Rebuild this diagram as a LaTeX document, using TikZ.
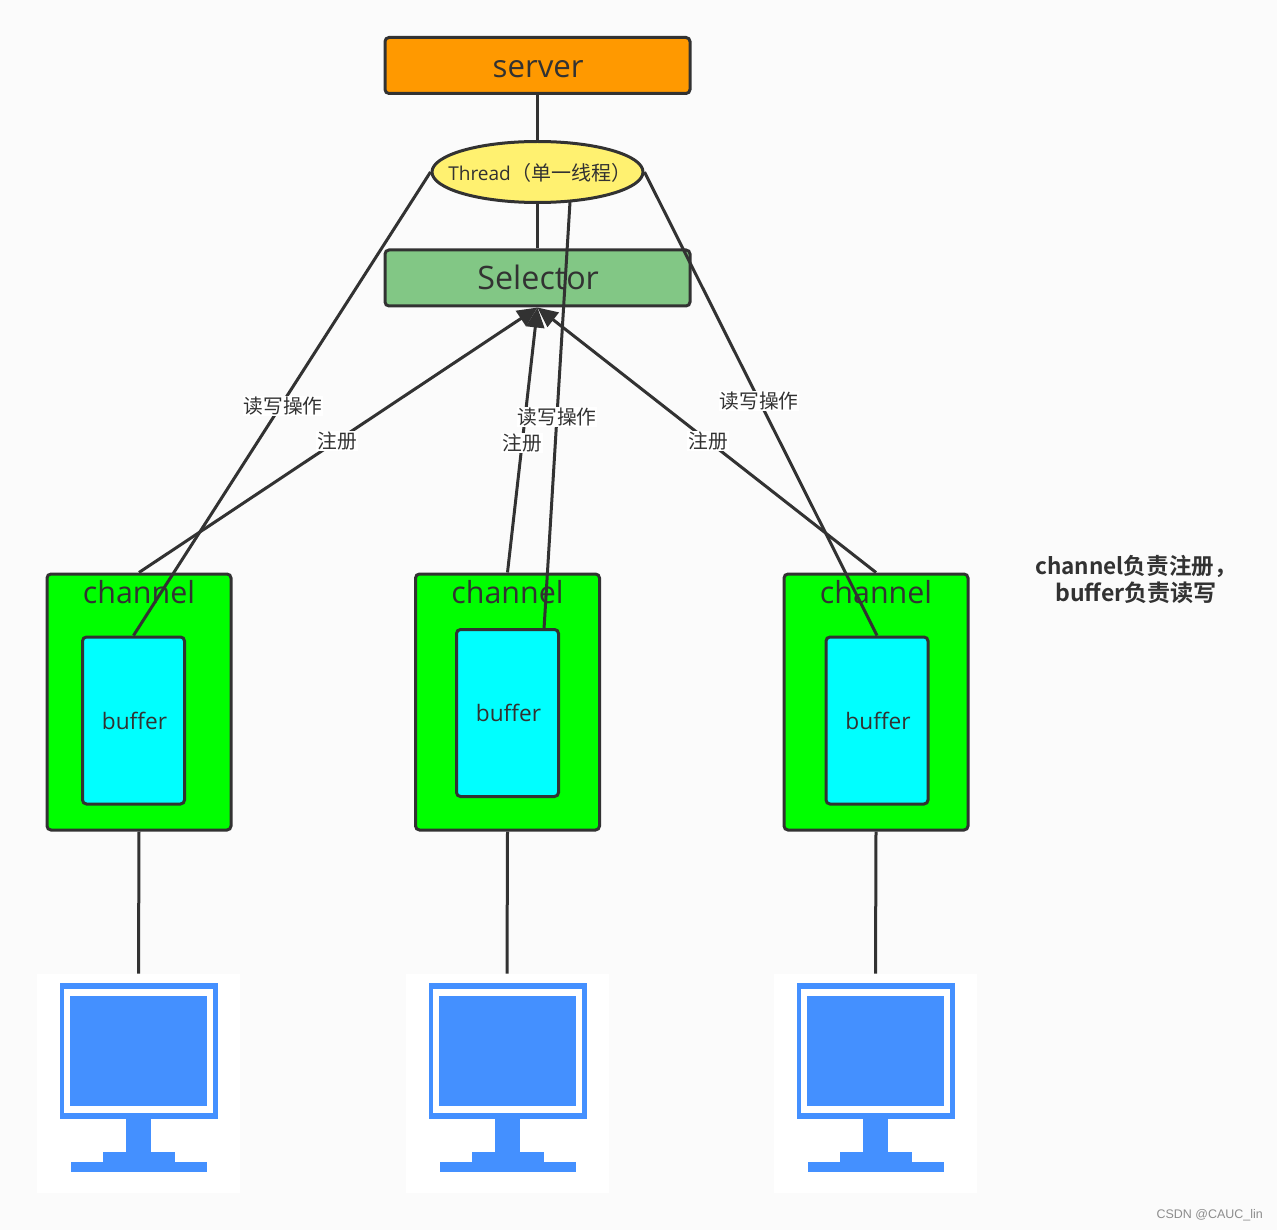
\documentclass[tikz,border=0pt]{standalone}
\usepackage{fontspec}
\setmainfont{Open Sans}
\newfontfamily\cjk{Noto Sans CJK SC}
\newfontfamily\cjkb{Noto Sans CJK SC Bold}
\newfontfamily\wm{Liberation Sans}
\usetikzlibrary{shapes.geometric,arrows.meta}
\def\px{0.75pt}
\definecolor{ink}{HTML}{323232}
\definecolor{iconblue}{HTML}{4490FF}
\definecolor{pagebg}{HTML}{FBFBFB}
\definecolor{serverfill}{HTML}{FF9900}
\definecolor{threadfill}{HTML}{FFF170}
\definecolor{selfill}{HTML}{82C785}
\definecolor{chanfill}{HTML}{00FF00}
\definecolor{buffill}{HTML}{00FFFF}
\tikzset{
  box/.style={draw=ink,line width=3*\px,rounded corners=4*\px,inner sep=0pt,text=ink},
  bigtext/.style={font=\fontsize{22.8}{26}\selectfont},
  link/.style={draw=ink,line width=3*\px},
  regarrow/.style={link,-{Triangle[length=20*\px,width=18*\px]}},
  lab/.style={fill=white,inner sep=1*\px,text=ink,font=\cjk\fontsize{14.8}{17}\selectfont},
  chanbox/.style={box,fill=chanfill,minimum width=184*\px,minimum height=256*\px},
  bufbox/.style={box,fill=buffill,minimum width=102*\px,minimum height=167*\px,font=\fontsize{17}{20}\selectfont},
  chantext/.style={text=ink,inner sep=0pt,bigtext},
  note/.style={text=ink,inner sep=0pt,font=\cjkb\fontsize{16.9}{20}\selectfont}
}
\newcommand{\monitor}[2]{%
  \begin{scope}[shift={(#1,0)}]
    \node[fill=white,minimum width=203*\px,minimum height=219*\px,inner sep=0pt] (#2) at (138.5,1083.5) {};
    \fill[iconblue] (60,983) rectangle (218,1119);
    \fill[white] (64,989) rectangle (213,1113);
    \fill[iconblue] (70,996) rectangle (207,1106);
    \fill[iconblue] (126,1119) rectangle (151,1152);
    \fill[iconblue] (103,1152) rectangle (175,1162);
    \fill[iconblue] (71,1162) rectangle (207,1172);
  \end{scope}}
\begin{document}
\begin{tikzpicture}[x=0.75pt,y=-0.75pt]
\fill[pagebg] (0,0) rectangle (1277,1230);
\useasboundingbox (0,0) rectangle (1277,1230);

% computers
\monitor{0}{pc1}
\monitor{368.5}{pc2}
\monitor{737}{pc3}

% channels
\node[chanbox] (ch1) at (139,702) {};
\node[chanbox] (ch2) at (507.5,702) {};
\node[chanbox] (ch3) at (876,702) {};
\node[chantext] (ch1t) at (139,592) {channel};
\node[chantext] (ch2t) at (507.5,592) {channel};
\node[chantext] (ch3t) at (876,592) {channel};

% buffers
\node[bufbox] (b1) at (133.5,720.5) {\hspace*{1.5pt}buffer};
\node[bufbox] (b2) at (507.5,713) {\hspace*{1.5pt}buffer};
\node[bufbox] (b3) at (877,720.5) {\hspace*{1.5pt}buffer};

% top row
\node[box,fill=serverfill,minimum width=305*\px,minimum height=56*\px,font=\fontsize{23.4}{26}\selectfont] (server) at (537.5,65.5) {\hspace*{1pt}\raisebox{-9.2pt}[0pt][0pt]{server}};
\node[draw=ink,line width=3*\px,fill=threadfill,ellipse,minimum width=211*\px,minimum height=61*\px,inner sep=0pt] (thread) at (537.5,172) {};
\node[text=ink,inner sep=0pt,anchor=west] (threadt) at (448,173) {\fontsize{14.3}{17}\selectfont Thread\cjk\fontsize{15}{17}\selectfont\hspace{0.5pt}（单一线程）};
\node[box,fill=selfill,minimum width=305*\px,minimum height=56*\px,font=\fontsize{24.2}{28}\selectfont] (sel) at (537.5,278) {\hspace*{1pt}\raisebox{1.5pt}{Selector}};

% free ends of the connector from the middle buffer to the thread
\coordinate (t2) at (570,202);
\coordinate (b2top) at (544,629);

% connectors
\draw[link] (server.south) -- (thread.north);
\draw[link] (thread.south) -- (sel.north);
\draw[link] (ch1.south) -- (pc1.north);
\draw[link] (ch2.south) -- (pc2.north);
\draw[link] (ch3.south) -- (pc3.north);
\draw[regarrow] (ch1.north) -- (sel.south);
\draw[regarrow] (ch2.north) -- (sel.south);
\draw[regarrow] (ch3.north) -- (sel.south);
\draw[link] (thread.west) -- (b1.north);
\draw[link] (t2) -- (b2top);
\draw[link] (thread.east) -- (b3.north);

% connector labels
\node[lab] (l1) at (283,406) {读写操作};
\node[lab] (l2) at (337,441) {注册};
\node[lab] (l3) at (522,443) {注册};
\node[lab] (l4) at (557,417) {读写操作};
\node[lab] (l5) at (708,441) {注册};
\node[lab] (l6) at (759,401) {读写操作};

% note
\node[note,anchor=west] (n1) at (1035,566) {channel负责注册，};
\node[note,anchor=west,font=\cjkb\fontsize{17.3}{20}\selectfont] (n2) at (1055,593) {buffer负责读写};

% watermark
\node[inner sep=0pt,anchor=east,text=black!45,font=\wm\fontsize{9.35}{12}\selectfont] (wm) at (1263,1215) {CSDN @CAUC\_lin};
\end{tikzpicture}
\end{document}
